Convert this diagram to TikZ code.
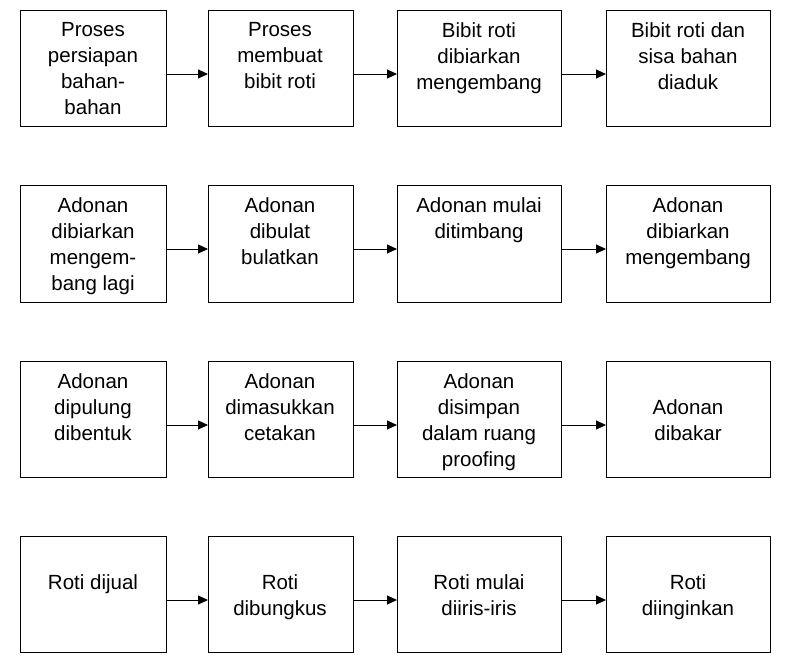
\documentclass[tikz,border=0pt]{standalone}
\usepackage{fontspec}
\setmainfont{Liberation Sans}
\usetikzlibrary{arrows.meta}
\begin{document}
\begin{tikzpicture}[x=1pt,y=-1pt,
  boxx/.style={draw,line width=1pt},
  txt/.style={anchor=north,align=center,font=\fontsize{20.5}{26}\selectfont,inner sep=0pt},
  arr/.style={-{Triangle[length=10pt,width=9pt]},line width=1pt}]
\useasboundingbox (0,0) rectangle (788,665);
\def\xa{20}\def\xb{166}\def\xc{208}\def\xd{353}\def\xe{397}\def\xf{561}\def\xg{606}\def\xh{770}
\foreach \r/\t/\b in {1/10/126,2/185/302,3/361/477,4/536/652}{
  \draw[boxx] (\xa,\t) rectangle (\xb,\b);
  \draw[boxx] (\xc,\t) rectangle (\xd,\b);
  \draw[boxx] (\xe,\t) rectangle (\xf,\b);
  \draw[boxx] (\xg,\t) rectangle (\xh,\b);
  \coordinate (r\r1) at (\xb,\t+64);
  \coordinate (l\r2) at (\xc,\t+64);
  \coordinate (r\r2) at (\xd,\t+64);
  \coordinate (l\r3) at (\xe,\t+64);
  \coordinate (r\r3) at (\xf,\t+64);
  \coordinate (l\r4) at (\xg,\t+64);
  \draw[arr] (r\r1) -- (l\r2);
  \draw[arr] (r\r2) -- (l\r3);
  \draw[arr] (r\r3) -- (l\r4);
}
\node[txt] (t11) at (93,22) {Proses\\persiapan\\bahan-\\bahan};
\node[txt] (t12) at (280,22) {Proses\\membuat\\bibit roti};
\node[txt] (t13) at (479,22) {Bibit roti\\dibiarkan\\mengembang};
\node[txt] (t14) at (688,22) {Bibit roti dan\\sisa bahan\\diaduk};
\node[txt] (t21) at (93,197) {Adonan\\dibiarkan\\mengem-\\bang lagi};
\node[txt] (t22) at (280,197) {Adonan\\dibulat\\bulatkan};
\node[txt] (t23) at (479,197) {Adonan mulai\\ditimbang};
\node[txt] (t24) at (688,197) {Adonan\\dibiarkan\\mengembang};
\node[txt] (t31) at (93,373) {Adonan\\dipulung\\dibentuk};
\node[txt] (t32) at (280,373) {Adonan\\dimasukkan\\cetakan};
\node[txt] (t33) at (479,373) {Adonan\\disimpan\\dalam ruang\\proofing};
\node[txt] (t34) at (688,399) {Adonan\\dibakar};
\node[txt] (t41) at (93,574) {Roti dijual};
\node[txt] (t42) at (280,574) {Roti\\dibungkus};
\node[txt] (t43) at (479,574) {Roti mulai\\diiris-iris};
\node[txt] (t44) at (688,574) {Roti\\diinginkan};
\end{tikzpicture}
\end{document}
